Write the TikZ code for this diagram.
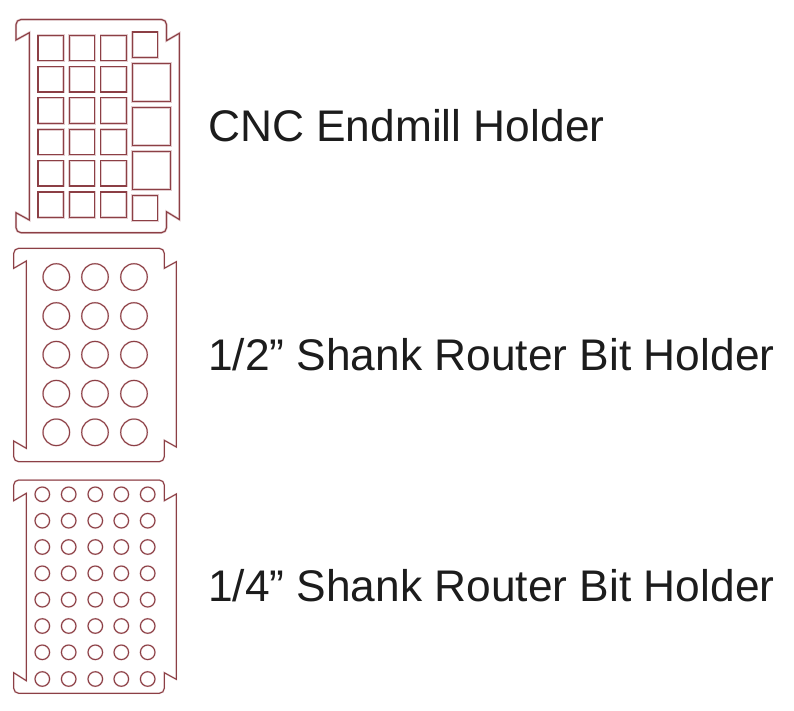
\documentclass[tikz,border=0pt]{standalone}
\usepackage{fontspec}
\setmainfont{Liberation Sans}
\definecolor{cutline}{HTML}{8C3F45}
\definecolor{cuthalo}{HTML}{E3CDCF}
\definecolor{labelink}{HTML}{1C1C1C}
\tikzset{
  cut/.style={draw=cutline,line width=1pt,line join=miter,preaction={draw=cuthalo,line width=1.8pt}},
  cutheavy/.style={draw=cutline,line width=1.1pt,line join=miter,preaction={draw=cuthalo,line width=2.4pt}},
  caption/.style={anchor=base west,inner sep=0pt,text=labelink,font=\fontsize{44.3}{44.3}\selectfont},
}
\begin{document}
\begin{tikzpicture}[x=1pt,y=-1pt]
\useasboundingbox (0,0) rectangle (794,710);
% plate 1
\draw[cutheavy] (16,24.5) arc[start angle=180,end angle=270,radius=5] -- (161.5,19.5) arc[start angle=-90,end angle=0,radius=5] -- (166.5,40.7) -- (179.3,33.3) -- (179.3,219.5) -- (166.5,211.7) -- (166.5,227.7) arc[start angle=0,end angle=90,radius=5] -- (21,232.7) arc[start angle=90,end angle=180,radius=5] -- (16,212.7) -- (29.3,220) -- (29.3,32.7) -- (16,40) -- cycle;
\foreach \xa/\xb in {38/63.3,69.3/94.7,100.7/126.3}
  \foreach \ya/\yb in {35.3/60.7,66.7/92,97.7/123.3,129.3/154.7,160.7/186,192/217.3}
    \draw[cutheavy] (\xa,\ya) rectangle (\xb,\yb);
\draw[cutheavy] (132.3,32) rectangle (157.7,57.3);
\draw[cutheavy] (132.3,63.3) rectangle (170.3,101.3);
\draw[cutheavy] (132.3,107.3) rectangle (170.3,145.3);
\draw[cutheavy] (132.3,151.3) rectangle (170.3,189.3);
\draw[cutheavy] (132.3,195.3) rectangle (157.7,220.7);
% plate 2
\draw[cut] (13.7,253.3) arc[start angle=180,end angle=270,radius=5] -- (159.3,248.3) arc[start angle=-90,end angle=0,radius=5] -- (164.3,268.3) -- (176.3,261.7) -- (176.3,447) -- (164.3,440.3) -- (164.3,456.7) arc[start angle=0,end angle=90,radius=5] -- (18.7,461.7) arc[start angle=90,end angle=180,radius=5] -- (13.7,441) -- (26.3,448.3) -- (26.3,261) -- (13.7,268.3) -- cycle;
\foreach \x in {56.3,95,134}
  \foreach \y in {277,316,354.7,393.7,432.3}
    \draw[cut] (\x,\y) circle[radius=13.3];
% plate 3
\draw[cut] (13.7,485) arc[start angle=180,end angle=270,radius=5] -- (159.3,480) arc[start angle=-90,end angle=0,radius=5] -- (164.3,500.7) -- (176.3,494) -- (176.3,679.3) -- (164.3,672.7) -- (164.3,688.3) arc[start angle=0,end angle=90,radius=5] -- (18.7,693.3) arc[start angle=90,end angle=180,radius=5] -- (13.7,672.7) -- (26.3,680.7) -- (26.3,493.3) -- (13.7,500.7) -- cycle;
\foreach \x in {42.3,68.7,95.3,121.3,147.7}
  \foreach \y in {494.3,520.7,547,573.3,599.7,626,652.3,679}
    \draw[cut] (\x,\y) circle[radius=7.3];
% captions
\node[caption] (capa) at (208,141) {CNC Endmill Holder};
\node[caption] (capb) at (208,370) {1/2” Shank Router Bit Holder};
\node[caption] (capc) at (208,601) {1/4” Shank Router Bit Holder};
\end{tikzpicture}
\end{document}
